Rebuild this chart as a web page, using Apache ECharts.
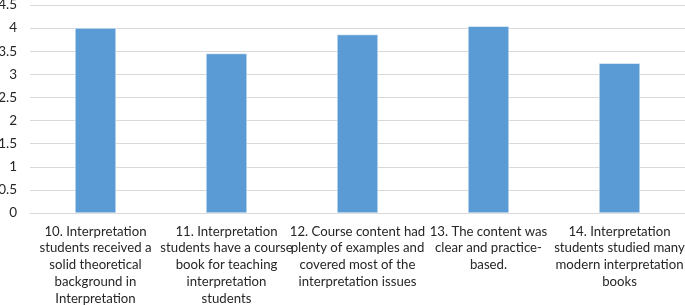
<!DOCTYPE html>
<html>
<head>
<meta charset="utf-8">
<script src="https://cdn.jsdelivr.net/npm/echarts@6/dist/echarts.min.js"></script>
<style>
  html, body { margin: 0; padding: 0; background: #fff; }
  #chart { width: 685px; height: 305px; }
</style>
</head>
<body>
<div id="chart"></div>
<script>
const categories = [
  '10. Interpretation\nstudents received a\nsolid theoretical\nbackground in\nInterpretation',
  '11. Interpretation\nstudents have a course\nbook for teaching\ninterpretation\nstudents',
  '12. Course content had\nplenty of examples and\ncovered most of the\ninterpretation issues',
  '13. The content was\nclear and practice-\nbased.',
  '14. Interpretation\nstudents studied many\nmodern interpretation\nbooks'
]
const values = [4.0, 3.45, 3.86, 4.04, 3.24]

const chart = echarts.init(document.getElementById('chart'))
const font = 'Lato'
chart.setOption({
  animation: false,
  grid: { left: 30, right: 0, top: 5, bottom: 92, containLabel: false, outerBoundsMode: 'none' },
  xAxis: {
    type: 'category',
    data: categories,
    axisLine: { lineStyle: { color: '#d9d9d9', width: 1 } },
    axisTick: { show: false },
    axisLabel: {
      interval: 0,
      color: '#262626',
      fontFamily: font,
      fontSize: 13.2,
      lineHeight: 16.8,
      margin: 10
    }
  },
  yAxis: {
    type: 'value',
    min: 0,
    max: 4.5,
    interval: 0.5,
    axisLine: { show: false },
    axisTick: { show: false },
    splitLine: { lineStyle: { color: '#d9d9d9', width: 1 } },
    axisLabel: {
      color: '#262626',
      fontFamily: font,
      fontSize: 13.5,
      margin: 13
    }
  },
  series: [{
    type: 'bar',
    data: values,
    barWidth: 41,
    itemStyle: { color: '#5b9bd5', borderColor: '#ffffff', borderWidth: 0.5 }
  }]
})
</script>
</body>
</html>
